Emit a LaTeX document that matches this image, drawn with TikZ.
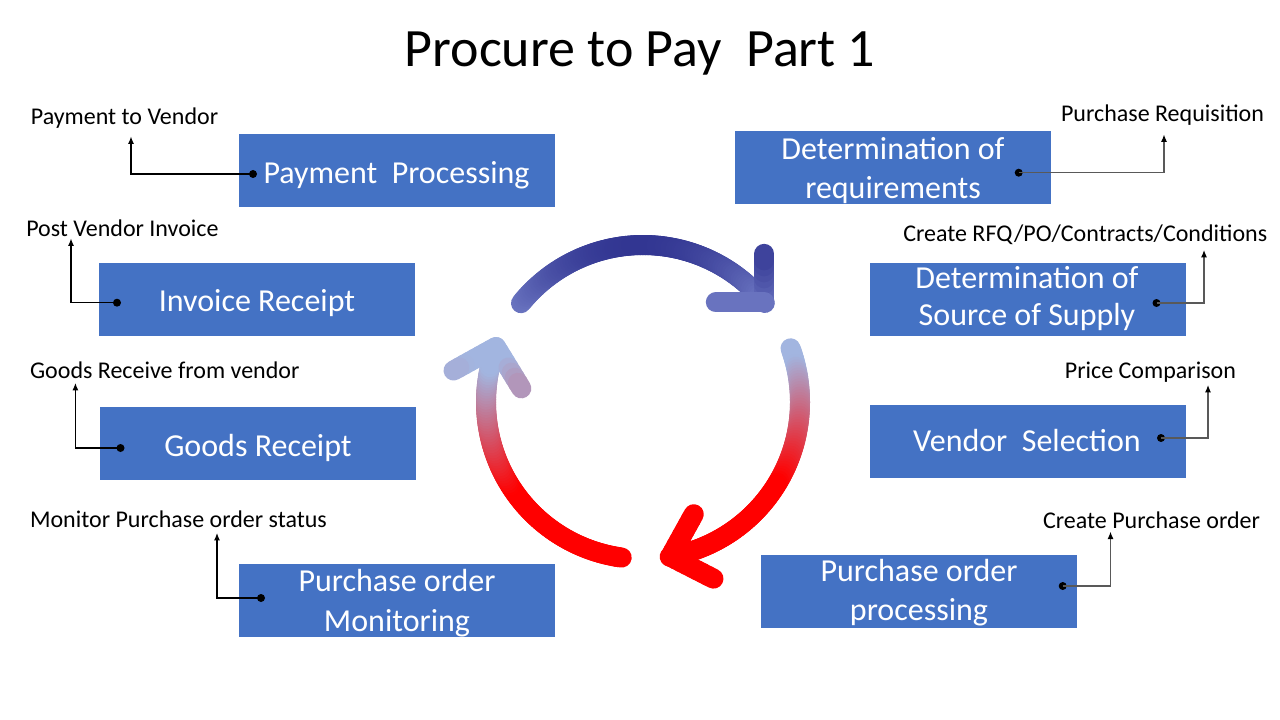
\documentclass[tikz,border=0pt]{standalone}
\usepackage{fontspec}
\setmainfont{Carlito}
\usetikzlibrary{arrows.meta}
\definecolor{boxblue}{RGB}{68,114,196}
\definecolor{topdark}{RGB}{50,54,146}
\definecolor{toplight}{RGB}{106,116,192}
\definecolor{lb}{RGB}{162,181,224}
\definecolor{arcred}{RGB}{255,0,0}
\begin{document}
\begin{tikzpicture}[x=0.75pt,y=-0.75pt,
  box/.style={fill=boxblue, draw=none, minimum width=237pt, minimum height=54.75pt, inner sep=0pt},
  boxtext/.style={text=white, font=\fontsize{24}{29}\selectfont, anchor=base, inner sep=0pt},
  lbl/.style={font=\fontsize{18}{22}\selectfont, anchor=base west, inner sep=0pt},
  conn/.style={line width=0.9pt, -{Latex[length=5.5pt,width=4.5pt]}},
  connR/.style={line width=0.9pt, draw=black!65, -{Latex[length=5.5pt,width=4.5pt,color=black]}},
  dot/.style={circle, fill=black, inner sep=0pt, minimum size=6pt},
  seg/.style={line width=15pt, line cap=round},
]
\path[fill=white,use as bounding box] (0,0) rectangle (1280,720);

% title
\node[font=\fontsize{40.5}{48}\selectfont, anchor=base, inner sep=0pt] (title) at (640,66.7) {Procure to Pay\ \ Part 1};

% ---------- cycle arrows ----------
\def\cx{643}\def\cy{402}\def\R{157}
% top arc (blue)
\foreach \k in {0,...,99}{
  \pgfmathsetmacro\aa{-141+\k*1.016}
  \pgfmathsetmacro\bb{\aa+1.3}
  \pgfmathsetmacro\pp{max(0,min(100,(\cy+\R*sin(\aa+0.5)-245)/58*100))}
  \draw[seg, draw=toplight!\pp!topdark] ([shift={(\cx,\cy)}]\aa:\R) -- ([shift={(\cx,\cy)}]\bb:\R);
}
% right arc
\foreach \k in {0,...,99}{
  \pgfmathsetmacro\aa{-20+\k}
  \pgfmathsetmacro\bb{\aa+1.2}
  \pgfmathsetmacro\pp{max(0,min(100,(\cy+\R*sin(\aa+0.5)-365)/120*100))}
  \draw[seg, draw=arcred!\pp!lb] ([shift={(\cx,\cy)}]\aa:\R) -- ([shift={(\cx,\cy)}]\bb:\R);
}
% left arc
\foreach \k in {0,...,101}{
  \pgfmathsetmacro\aa{97.8+\k*1.0}
  \pgfmathsetmacro\bb{\aa+1.2}
  \pgfmathsetmacro\pp{max(0,min(100,(\cy+\R*sin(\aa+0.5)-365)/120*100))}
  \draw[seg, draw=arcred!\pp!lb] ([shift={(\cx,\cy)}]\aa:\R) -- ([shift={(\cx,\cy)}]\bb:\R);
}
% arrow heads (chevrons): tip angle / arm directions
\foreach \ph/\psA/\psB in {-39.4/-90/180}{
  \pgfmathsetmacro\tx{\cx+\R*cos(\ph)}
  \pgfmathsetmacro\ty{\cy+\R*sin(\ph)}
  \foreach \ps in {\psA,\psB}{
    \foreach \k in {0,...,7}{
      \pgfmathsetmacro\ra{\k*6.0}
      \pgfmathsetmacro\rb{\ra+6.5}
      \pgfmathsetmacro\pp{max(0,min(100,(\ty+(\ra+3)*sin(\ps)-245)/58*100))}
      \draw[seg, draw=toplight!\pp!topdark] ([shift={(\tx,\ty)}]\ps:\ra) -- ([shift={(\tx,\ty)}]\ps:\rb);
    }
  }
}
\foreach \ph/\psA/\psB in {80/-61/27, 200.5/151/58.5}{
  \pgfmathsetmacro\tx{\cx+\R*cos(\ph)}
  \pgfmathsetmacro\ty{\cy+\R*sin(\ph)}
  \foreach \ps in {\psA,\psB}{
    \foreach \k in {0,...,7}{
      \pgfmathsetmacro\ra{\k*6.0}
      \pgfmathsetmacro\rb{\ra+6.5}
      \pgfmathsetmacro\pp{max(0,min(100,(\ty+(\ra+3)*sin(\ps)-365)/120*100))}
      \draw[seg, draw=arcred!\pp!lb] ([shift={(\tx,\ty)}]\ps:\ra) -- ([shift={(\tx,\ty)}]\ps:\rb);
    }
  }
}

% ---------- boxes ----------
\node[box] (pp)  at (396.5,170.5) {};
\node[box] (ir)  at (257,299.5) {};
\node[box] (gr)  at (257.5,443.5) {};
\node[box] (pom) at (397,600) {};
\node[box] (dr)  at (893,168) {};
\node[box] (dss) at (1028,299) {};
\node[box] (vs)  at (1028,441.5) {};
\node[box] (pop) at (919,591.5) {};

\node[boxtext] (ppt)  at (396.5,183.3) {Payment\ \ Processing};
\node[boxtext] (irt)  at (257,311.7) {Invoice Receipt};
\node[boxtext] (grt)  at (258,456) {Goods Receipt};
\node[boxtext] (pomt1) at (397,591) {Purchase order};
\node[boxtext] (pomt2) at (397,631.5) {Monitoring};
\node[boxtext] (drt1) at (893,160) {Determination of};
\node[boxtext] (drt2) at (893,198.3) {requirements};
\node[boxtext] (dsst1) at (1027,288.3) {Determination of};
\node[boxtext] (dsst2) at (1027,325) {Source of Supply};
\node[boxtext] (vst)  at (1027,451.7) {Vendor\ \ Selection};
\node[boxtext] (popt1) at (919,581.7) {Purchase order};
\node[boxtext] (popt2) at (919,620) {processing};

% ---------- labels ----------
\node[lbl] (l1) at (30.6,125) {Payment to Vendor};
\node[lbl] (l2) at (26,236.5) {Post Vendor Invoice};
\node[lbl] (l3) at (29.8,378) {Goods Receive from vendor};
\node[lbl] (l4) at (29.8,527) {Monitor Purchase order status};
\node[lbl] (l5) at (1060.8,121.5) {Purchase Requisition};
\node[lbl] (l6) at (903,241.5) {Create RFQ/PO/Contracts/Conditions};
\node[lbl] (l7) at (1064.6,378) {Price Comparison};
\node[lbl] (l8) at (1042.8,528) {Create Purchase order};

% ---------- connectors ----------
\node[dot] (d1) at (253,174) {};
\node[dot] (d2) at (117,302.7) {};
\node[dot] (d3) at (120.5,448) {};
\node[dot] (d4) at (261,598) {};
\node[dot] (d5) at (1018.7,172.7) {};
\node[dot] (d6) at (1156.5,303) {};
\node[dot] (d7) at (1161,438) {};
\node[dot] (d8) at (1062.7,586) {};

\coordinate (t1) at (131,136.5);
\coordinate (t2) at (71,238.5);
\coordinate (t3) at (75.4,383);
\coordinate (t4) at (217,533);
\coordinate (t5) at (1164,134.5);
\coordinate (t6) at (1204,250);
\coordinate (t7) at (1208,385);
\coordinate (t8) at (1110.5,531.7);

\draw[conn] (d1.center) -| (t1);
\draw[conn] (d2.center) -| (t2);
\draw[conn] (d3.center) -| (t3);
\draw[conn] (d4.center) -| (t4);
\draw[connR] (d5.center) -| (t5);
\draw[connR] (d6.center) -| (t6);
\draw[connR] (d7.center) -| (t7);
\draw[connR] (d8.center) -| (t8);
\end{tikzpicture}
\end{document}
